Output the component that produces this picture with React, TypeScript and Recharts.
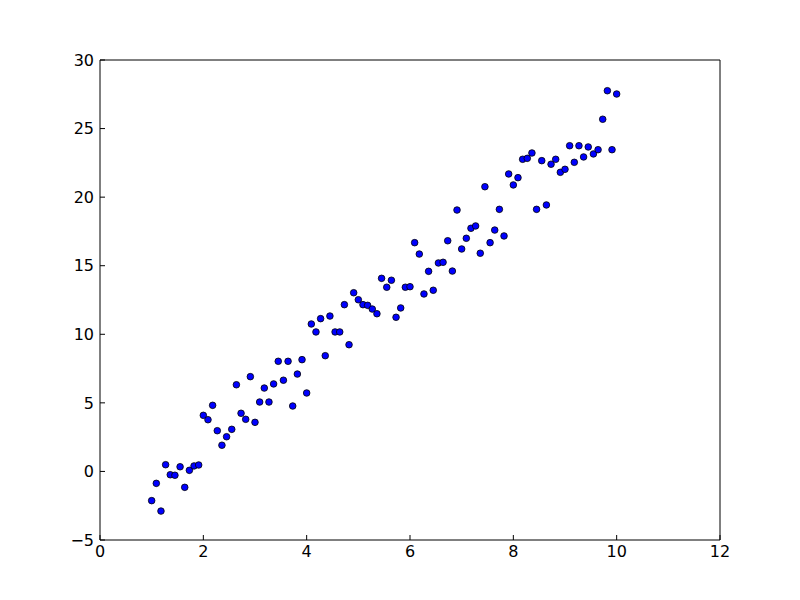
import { ScatterChart, Scatter, XAxis, YAxis } from 'recharts'

const X_VALUES = [
  1.0, 1.09, 1.18, 1.27, 1.36, 1.45, 1.55, 1.64, 1.73, 1.82,
  1.91, 2.0, 2.09, 2.18, 2.27, 2.36, 2.45, 2.55, 2.64, 2.73,
  2.82, 2.91, 3.0, 3.09, 3.18, 3.27, 3.36, 3.45, 3.55, 3.64,
  3.73, 3.82, 3.91, 4.0, 4.09, 4.18, 4.27, 4.36, 4.45, 4.55,
  4.64, 4.73, 4.82, 4.91, 5.0, 5.09, 5.18, 5.27, 5.36, 5.45,
  5.55, 5.64, 5.73, 5.82, 5.91, 6.0, 6.09, 6.18, 6.27, 6.36,
  6.45, 6.55, 6.64, 6.73, 6.82, 6.91, 7.0, 7.09, 7.18, 7.27,
  7.36, 7.45, 7.55, 7.64, 7.73, 7.82, 7.91, 8.0, 8.09, 8.18,
  8.27, 8.36, 8.45, 8.55, 8.64, 8.73, 8.82, 8.91, 9.0, 9.09,
  9.18, 9.27, 9.36, 9.45, 9.55, 9.64, 9.73, 9.82, 9.91, 10.0,
]

const Y_VALUES = [
  -2.13, -0.87, -2.89, 0.49, -0.24, -0.28, 0.34, -1.16, 0.08, 0.4,
  0.47, 4.09, 3.77, 4.82, 2.97, 1.91, 2.53, 3.07, 6.32, 4.24,
  3.8, 6.91, 3.58, 5.06, 6.08, 5.06, 6.38, 8.03, 6.65, 8.03,
  4.77, 7.1, 8.15, 5.72, 10.75, 10.17, 11.14, 8.44, 11.33, 10.17,
  10.17, 12.16, 9.24, 13.03, 12.52, 12.16, 12.11, 11.84, 11.5, 14.08,
  13.43, 13.94, 11.24, 11.92, 13.43, 13.47, 16.68, 15.85, 12.94, 14.59,
  13.21, 15.2, 15.25, 16.82, 14.61, 19.06, 16.22, 17.0, 17.73, 17.9,
  15.91, 20.76, 16.68, 17.6, 19.11, 17.17, 21.69, 20.89, 21.42, 22.76,
  22.83, 23.22, 19.11, 22.66, 19.43, 22.4, 22.76, 21.81, 22.03, 23.75,
  22.54, 23.75, 22.93, 23.66, 23.15, 23.46, 25.68, 27.76, 23.46, 27.52,
]

const X_TICKS = [0, 2, 4, 6, 8, 10, 12]
const Y_TICKS = [-5, 0, 5, 10, 15, 20, 25, 30]

const points = X_VALUES.map((x, i) => ({ x, y: Y_VALUES[i] }))

const font = { fontFamily: 'DejaVu Sans', fontSize: 16, fill: '#000' }
const line = { stroke: '#000', strokeWidth: 1 }
const minus = (v: number) => String(v).replace('-', '\u2212')

function Dot(props: any) {
  return <circle cx={props.cx} cy={props.cy} r={3.3} fill="#0000ff" stroke="#000" strokeWidth={0.8} />
}

export default function App() {
  return (
    <div style={{ position: 'absolute', left: 0, top: 0, width: 800, height: 600, background: '#fff' }}>
      <ScatterChart width={800} height={600} margin={{ top: 59, right: 79, bottom: 30, left: 60 }}>
        <XAxis
          dataKey="x"
          type="number"
          domain={[0, 12]}
          ticks={X_TICKS}
          allowDataOverflow
          height={30}
          tick={font}
          tickSize={-5}
          tickMargin={11}
          axisLine={line}
          tickLine={line}
        />
        <XAxis
          xAxisId="top"
          orientation="top"
          type="number"
          domain={[0, 12]}
          ticks={X_TICKS}
          allowDataOverflow
          height={1}
          tick={false}
          tickSize={-5}
          axisLine={line}
          tickLine={line}
        />
        <YAxis
          dataKey="y"
          type="number"
          domain={[-5, 30]}
          ticks={Y_TICKS}
          allowDataOverflow
          width={40}
          tick={font}
          tickSize={-5}
          tickMargin={11}
          tickFormatter={minus}
          axisLine={line}
          tickLine={line}
        />
        <YAxis
          yAxisId="right"
          orientation="right"
          type="number"
          domain={[-5, 30]}
          ticks={Y_TICKS}
          allowDataOverflow
          width={1}
          tick={false}
          tickSize={-5}
          axisLine={line}
          tickLine={line}
        />
        <Scatter data={points} shape={Dot} isAnimationActive={false} />
      </ScatterChart>
    </div>
  )
}
